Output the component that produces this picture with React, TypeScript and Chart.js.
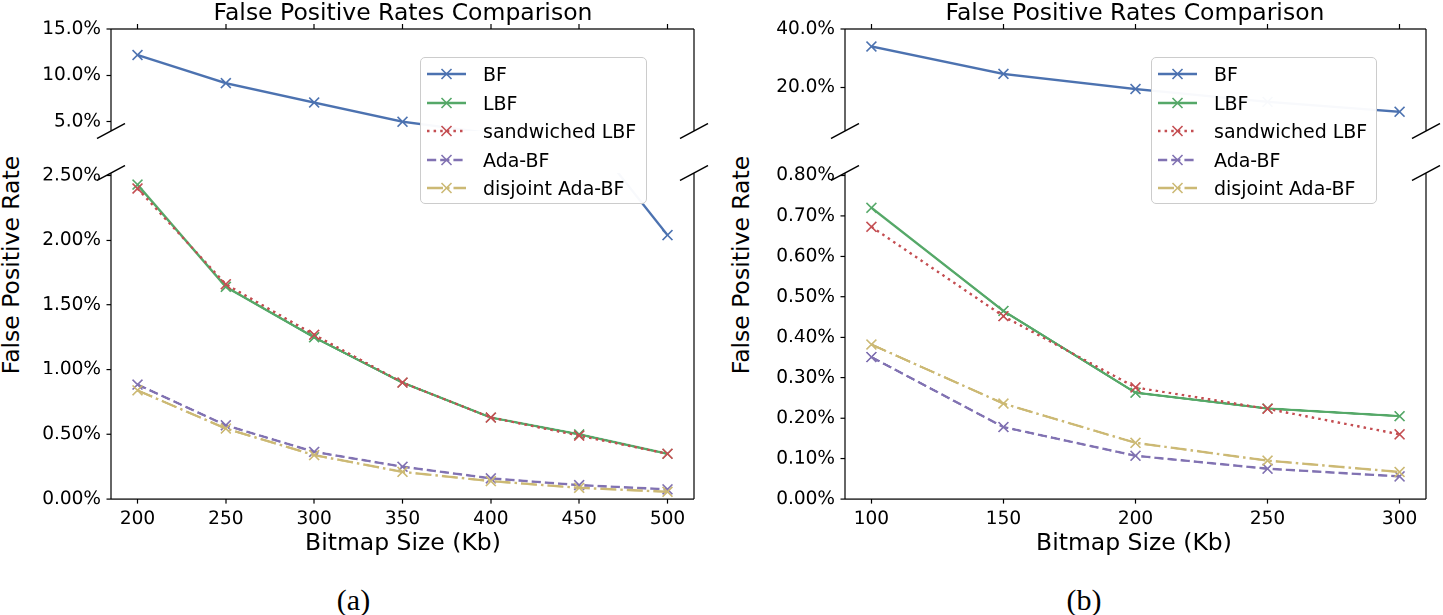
import React, { useEffect, useRef } from "react";
import { Chart, registerables } from "chart.js";

Chart.register(...registerables);

// ---------------- data ----------------
const seriesNames = ["BF", "LBF", "sandwiched LBF", "Ada-BF", "disjoint Ada-BF"];

// Panel (a)
const sizesA = [200, 250, 300, 350, 400, 450, 500];
const bfA = [12.2, 9.16, 7.07, 5.0, 3.75, 2.9, 2.04];
const lbfA = [2.43, 1.64, 1.25, 0.9, 0.63, 0.5, 0.35];
const sandwichedA = [2.4, 1.66, 1.27, 0.9, 0.63, 0.49, 0.35];
const adaA = [0.885, 0.57, 0.365, 0.25, 0.16, 0.108, 0.075];
const disjointA = [0.84, 0.545, 0.34, 0.21, 0.139, 0.087, 0.056];
const xTicksA = [200, 250, 300, 350, 400, 450, 500];
const yTopTicksA = [5, 10, 15];
const yBottomTicksA = [0, 0.5, 1.0, 1.5, 2.0, 2.5];

// Panel (b)
const sizesB = [100, 150, 200, 250, 300];
const bfB = [34.0, 24.6, 19.4, 15.0, 11.6];
const lbfB = [0.72, 0.465, 0.263, 0.224, 0.205];
const sandwichedB = [0.673, 0.452, 0.276, 0.223, 0.16];
const adaB = [0.351, 0.178, 0.107, 0.075, 0.056];
const disjointB = [0.382, 0.236, 0.139, 0.095, 0.067];
const xTicksB = [100, 150, 200, 250, 300];
const yTopTicksB = [20, 40];
const yBottomTicksB = [0, 0.1, 0.2, 0.3, 0.4, 0.5, 0.6, 0.7, 0.8];

const titleText = "False Positive Rates Comparison";
const xTitleText = "Bitmap Size (Kb)";
const yTitleText = "False Positive Rate";

// ---------------- styles ----------------
const COLORS = ["#4C72B0", "#55A868", "#C44E52", "#8172B2", "#CCB974"];
const DASHES: number[][] = [[], [], [2.5, 4.1], [9.2, 4], [16, 4, 2.5, 4]];
const SANS = "'DejaVu Sans', sans-serif";
const SERIF = "'Liberation Serif', 'Times New Roman', serif";

const YAXIS_W = 80;
const PAD_R = 22;
const TOPAXIS_H = 20;
const GAP_PAD = 20;
const XAXIS_H = 36;
const TOP_AREA = { top: 29, bottom: 131 };
const BOT_AREA = { top: 172.5, bottom: 499 };

type Part = "top" | "bottom";

interface Spec {
  areaLeft: number;
  areaRight: number;
  part: Part;
  sizes: number[];
  series: number[][];
  xMin: number;
  xMax: number;
  xTicks: number[];
  yMin: number;
  yMax: number;
  yTicks: number[];
  decimals: number;
}

const framePlugin = {
  id: "frame",
  afterDraw(chart: any, _args: any, opts: any) {
    const { ctx, chartArea: a } = chart;
    ctx.save();
    ctx.strokeStyle = "#000";
    ctx.lineWidth = 1.2;
    ctx.beginPath();
    ctx.moveTo(a.left, a.top);
    ctx.lineTo(a.left, a.bottom);
    ctx.moveTo(a.right, a.top);
    ctx.lineTo(a.right, a.bottom);
    if (opts.part === "top") {
      ctx.moveTo(a.left, a.top);
      ctx.lineTo(a.right, a.top);
    } else {
      ctx.moveTo(a.left, a.bottom);
      ctx.lineTo(a.right, a.bottom);
    }
    ctx.stroke();
    const by = opts.part === "top" ? a.bottom : a.top;
    const dx = 14;
    const dy = 7.5;
    ctx.lineWidth = 1.5;
    ctx.beginPath();
    for (const bx of [a.left, a.right]) {
      ctx.moveTo(bx - dx, by + dy);
      ctx.lineTo(bx + dx, by - dy);
    }
    ctx.stroke();
    ctx.restore();
  },
};

function boxFor(spec: Spec) {
  const isTop = spec.part === "top";
  const area = isTop ? TOP_AREA : BOT_AREA;
  const left = spec.areaLeft - YAXIS_W;
  const width = spec.areaRight - spec.areaLeft + YAXIS_W + PAD_R;
  const top = isTop ? area.top - TOPAXIS_H : area.top - GAP_PAD;
  const height = isTop
    ? area.bottom - area.top + TOPAXIS_H + GAP_PAD
    : area.bottom - area.top + GAP_PAD + XAXIS_H;
  return { left, top, width, height };
}

function makeConfig(spec: Spec): any {
  const isTop = spec.part === "top";
  const n = spec.series.length;
  return {
    type: "line",
    data: {
      datasets: spec.series.map((vals, i) => ({
        label: seriesNames[i],
        data: spec.sizes.map((x, j) => ({ x, y: vals[j] })),
        borderColor: COLORS[i],
        backgroundColor: COLORS[i],
        borderWidth: 2.4,
        borderDash: DASHES[i],
        borderCapStyle: "butt",
        pointStyle: "crossRot",
        pointRadius: 7,
        pointHoverRadius: 7,
        pointBorderWidth: 1.6,
        pointBorderColor: COLORS[i],
        tension: 0,
        fill: false,
        clip: 0,
        order: n - i,
      })),
    },
    options: {
      animation: false,
      responsive: true,
      maintainAspectRatio: false,
      devicePixelRatio: 2,
      events: [],
      layout: {
        padding: {
          left: 0,
          right: PAD_R,
          top: isTop ? 0 : GAP_PAD,
          bottom: isTop ? GAP_PAD : 0,
        },
      },
      plugins: {
        legend: { display: false },
        tooltip: { enabled: false },
        title: { display: false },
        frame: { part: spec.part },
      },
      scales: {
        x: {
          type: "linear",
          position: isTop ? "top" : "bottom",
          min: spec.xMin,
          max: spec.xMax,
          afterBuildTicks: (s: any) => {
            s.ticks = spec.xTicks.map((v) => ({ value: v }));
          },
          afterFit: (s: any) => {
            s.height = isTop ? TOPAXIS_H : XAXIS_H;
          },
          border: { display: false },
          grid: {
            drawOnChartArea: false,
            drawTicks: true,
            tickLength: isTop ? 5 : 4.5,
            tickWidth: 1.2,
            tickColor: "#000",
          },
          ticks: {
            display: !isTop,
            color: "#000",
            padding: 4.5,
            maxRotation: 0,
            autoSkip: false,
            font: { family: SANS, size: 18.5 },
            callback: (v: any) => String(v),
          },
        },
        y: {
          type: "linear",
          position: "left",
          min: spec.yMin,
          max: spec.yMax,
          afterBuildTicks: (s: any) => {
            s.ticks = spec.yTicks.map((v) => ({ value: v }));
          },
          afterFit: (s: any) => {
            s.width = YAXIS_W;
          },
          border: { display: false },
          grid: {
            drawOnChartArea: false,
            drawTicks: true,
            tickLength: 4.5,
            tickWidth: 1.2,
            tickColor: "#000",
          },
          ticks: {
            color: "#000",
            padding: 5.5,
            font: { family: SANS, size: 18.5 },
            callback: (v: any) => Number(v).toFixed(spec.decimals) + "%",
          },
        },
      },
    },
    plugins: [framePlugin],
  };
}

const PANEL_A = { areaLeft: 111, areaRight: 694 };
const PANEL_B = { areaLeft: 844.5, areaRight: 1425.5 };

const specs: Spec[] = [
  {
    ...PANEL_A,
    part: "top",
    sizes: sizesA,
    series: [bfA, lbfA, sandwichedA, adaA, disjointA],
    xMin: 185,
    xMax: 515,
    xTicks: xTicksA,
    yMin: 4,
    yMax: 15,
    yTicks: yTopTicksA,
    decimals: 1,
  },
  {
    ...PANEL_A,
    part: "bottom",
    sizes: sizesA,
    series: [bfA, lbfA, sandwichedA, adaA, disjointA],
    xMin: 185,
    xMax: 515,
    xTicks: xTicksA,
    yMin: 0,
    yMax: 2.52,
    yTicks: yBottomTicksA,
    decimals: 2,
  },
  {
    ...PANEL_B,
    part: "top",
    sizes: sizesB,
    series: [bfB, lbfB, sandwichedB, adaB, disjointB],
    xMin: 90,
    xMax: 310,
    xTicks: xTicksB,
    yMin: 5,
    yMax: 40,
    yTicks: yTopTicksB,
    decimals: 1,
  },
  {
    ...PANEL_B,
    part: "bottom",
    sizes: sizesB,
    series: [bfB, lbfB, sandwichedB, adaB, disjointB],
    xMin: 90,
    xMax: 310,
    xTicks: xTicksB,
    yMin: 0,
    yMax: 0.806,
    yTicks: yBottomTicksB,
    decimals: 2,
  },
];

function ChartBox({ spec }: { spec: Spec }) {
  const ref = useRef<HTMLCanvasElement | null>(null);
  useEffect(() => {
    if (!ref.current) return;
    const chart = new Chart(ref.current, makeConfig(spec));
    return () => chart.destroy();
  }, [spec]);
  const b = boxFor(spec);
  return (
    <div
      style={{
        position: "absolute",
        left: b.left,
        top: b.top,
        width: b.width,
        height: b.height,
      }}
    >
      <canvas ref={ref} style={{ display: "block" }} />
    </div>
  );
}

function Label({
  x,
  y,
  text,
  size,
  family = SANS,
  rotate = false,
}: {
  x: number;
  y: number;
  text: string;
  size: number;
  family?: string;
  rotate?: boolean;
}) {
  return (
    <div
      style={{
        position: "absolute",
        left: x,
        top: y,
        transform: rotate
          ? "translate(-50%, -50%) rotate(-90deg)"
          : "translate(-50%, -50%)",
        fontFamily: family,
        fontSize: size,
        lineHeight: 1,
        whiteSpace: "nowrap",
        color: "#000",
      }}
    >
      {text}
    </div>
  );
}

function Legend({ left, top, width, height }: { left: number; top: number; width: number; height: number }) {
  return (
    <div
      style={{
        position: "absolute",
        left,
        top,
        width,
        height,
        boxSizing: "border-box",
        border: "1px solid #cccccc",
        borderRadius: 5,
        background: "rgba(255,255,255,0.96)",
      }}
    >
      {seriesNames.map((name, i) => {
        const cy = 16 + i * 28.5;
        return (
          <div key={name} style={{ position: "absolute", left: 0, top: cy - 14, width: "100%", height: 28 }}>
            <svg
              width={40}
              height={28}
              style={{ position: "absolute", left: 6, top: 0, overflow: "visible" }}
            >
              <line
                x1={0}
                y1={14}
                x2={39}
                y2={14}
                stroke={COLORS[i]}
                strokeWidth={2.4}
                strokeDasharray={DASHES[i].length ? DASHES[i].join(" ") : undefined}
              />
              <line x1={14.5} y1={9} x2={24.5} y2={19} stroke={COLORS[i]} strokeWidth={1.6} />
              <line x1={14.5} y1={19} x2={24.5} y2={9} stroke={COLORS[i]} strokeWidth={1.6} />
            </svg>
            <span
              style={{
                position: "absolute",
                left: 62,
                top: 14,
                transform: "translateY(-50%)",
                fontFamily: SANS,
                fontSize: 19,
                lineHeight: 1,
                whiteSpace: "nowrap",
                color: "#000",
              }}
            >
              {name}
            </span>
          </div>
        );
      })}
    </div>
  );
}

export default function App() {
  return (
    <div
      style={{
        position: "absolute",
        left: 0,
        top: 0,
        width: 1443,
        height: 615,
        overflow: "hidden",
        background: "#fff",
      }}
    >
      {specs.map((s, i) => (
        <ChartBox key={i} spec={s} />
      ))}
      <Label x={403} y={13} text={titleText} size={23.5} />
      <Label x={1135} y={13} text={titleText} size={23.5} />
      <Label x={403} y={543} text={xTitleText} size={23.5} />
      <Label x={1134} y={543} text={xTitleText} size={23.5} />
      <Label x={12} y={265} text={yTitleText} size={23.5} rotate />
      <Label x={742} y={265} text={yTitleText} size={23.5} rotate />
      <Label x={353.5} y={600} text="(a)" size={30} family={SERIF} />
      <Label x={1084} y={600} text="(b)" size={30} family={SERIF} />
      <Legend left={420} top={57} width={226.5} height={147} />
      <Legend left={1151} top={57} width={226} height={147} />
    </div>
  );
}
